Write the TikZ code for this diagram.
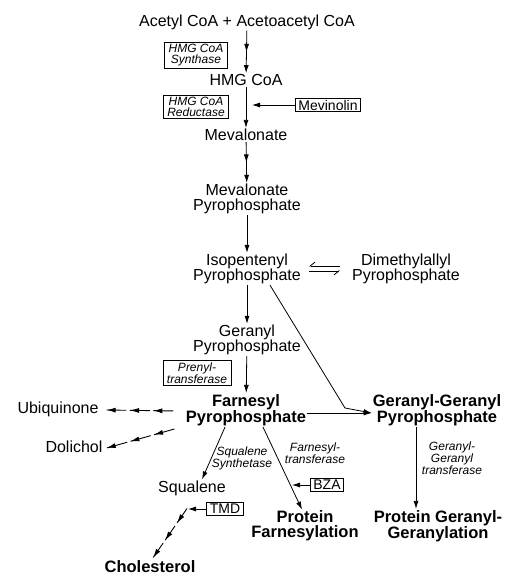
\documentclass[tikz,border=0pt]{standalone}
\usepackage{fontspec}
\setmainfont{Liberation Sans}
\usetikzlibrary{arrows.meta,decorations.markings}

\tikzset{
  met/.style={align=center, inner sep=1pt, font=\fontsize{16}{15}\selectfont},
  prod/.style={align=center, inner sep=1pt, font=\fontsize{16.5}{15}\selectfont\bfseries},
  enz/.style={align=center, inner sep=1pt, font=\fontsize{12}{11}\selectfont\itshape},
  enzbox/.style={enz, draw, line width=0.8pt, inner xsep=4pt, inner ysep=2pt},
  drug/.style={draw, line width=0.8pt, inner xsep=3pt, inner ysep=1.5pt, font=\fontsize{14}{14}\selectfont},
  conv/.style={line width=0.8pt, -{Latex[length=8pt,width=5pt]}},
  twostep/.style={conv, postaction=decorate, decoration={markings,
      mark=at position 0.5 with {\arrow{Latex[length=8pt,width=5pt]}}}},
  multistep/.style={line width=0.9pt, dash pattern=on #1 off 3.5pt, dash phase=#1,
      postaction=decorate, decoration={markings,
      mark=at position 0.3333 with {\arrow{Latex[length=9pt,width=5pt]}},
      mark=at position 0.6667 with {\arrow{Latex[length=9pt,width=5pt]}},
      mark=at position 0.9999 with {\arrow{Latex[length=9pt,width=5pt]}}}},
  harp/.style={line width=0.8pt, -{Straight Barb[#1,length=5pt,width=8pt]}},
}

\begin{document}
\begin{tikzpicture}[x=1pt,y=-1pt]
        \useasboundingbox (0,0) rectangle (520,582);

        % Mevalonate pathway
        \node[met] (acc) at (247,22) {Acetyl CoA + Acetoacetyl CoA};
        \node[met] (hmg) at (246,80) {HMG CoA};
        \node[met] (mev) at (246,135) {Mevalonate};
        \node[met] (mpp) at (247,199) {Mevalonate\\Pyrophosphate};
        \node[met] (ipp) at (247,269) {Isopentenyl\\Pyrophosphate};
        \node[met] (dma) at (406,269) {Dimethylallyl\\Pyrophosphate};
        \node[met] (gpp) at (247,340) {Geranyl\\Pyrophosphate};
        \node[prod] (fpp) at (246,410) {Farnesyl\\Pyrophosphate};
        \node[prod] (ggpp) at (437,410) {Geranyl-Geranyl\\Pyrophosphate};

        % Side products
        \node[met] (ubi) at (58,409) {Ubiquinone};
        \node[met] (dol) at (74,447) {Dolichol};
        \node[met] (sq) at (192,488) {Squalene};
        \node[prod] (chol) at (150,567) {Cholesterol};
        \node[prod] (pf) at (305,526) {Protein\\Farnesylation};
        \node[prod] (pgg) at (438,526) {Protein Geranyl-\\Geranylation};

        % Enzymes
        \node[enzbox] (hmgs) at (196,55) {HMG CoA\\Synthase};
        \node[enzbox] (hmgr) at (196,107) {HMG CoA\\Reductase};
        \node[enzbox] (prenyl) at (197,373) {Prenyl-\\transferase};
        \node[enz] (sqs) at (242,458) {Squalene\\Synthetase};
        \node[enz] (ftase) at (315,453) {Farnesyl-\\transferase};
        \node[enz] (ggtase) at (452,458) {Geranyl-\\Geranyl\\transferase};

        % Inhibitors
        \node[drug] (mevin) at (328,105) {Mevinolin};
        \node[drug] (bza) at (327,485) {BZA};
        \node[drug] (tmd) at (225,509) {TMD};
        \coordinate (mevhit) at (252,105);
        \coordinate (bzahit) at (292,485);
        \coordinate (tmdhit) at (188,509);
        \coordinate (bend) at (345,408);

        % Main steps
        \draw[twostep] (acc) -- (hmg);
        \draw[conv] (hmg) -- (mev);
        \draw[twostep] (mev) -- (mpp);
        \draw[conv] (mpp) -- (ipp);
        \draw[conv] (ipp) -- (gpp);
        \draw[conv] (gpp) -- (fpp);
        \draw[conv] ([yshift=-3pt]fpp.east) -- ([yshift=-3pt]ggpp.west);
        \draw[conv] ([xshift=23pt]ipp.south) -- (bend) -- ([yshift=-3pt]ggpp.west);
        \draw[conv] ([xshift=-21pt]ggpp.south) -- ([xshift=-22pt]pgg.north);
        \draw[conv] ([xshift=-21pt]fpp.south) -- ([xshift=10pt]sq.north);
        \draw[conv] ([xshift=17pt]fpp.south) -- ([xshift=-3pt]pf.north);

        % Isomerase
        \draw[harp=right] ([xshift=-11pt,yshift=3pt]dma.west) -- ([xshift=7pt,yshift=3pt]ipp.east);
        \draw[harp=right] ([xshift=7pt,yshift=-2pt]ipp.east) -- ([xshift=-11pt,yshift=-2pt]dma.west);

        % Several steps
        \draw[multistep=20pt] ([xshift=-8pt,yshift=-1pt]fpp.west) -- ([xshift=7pt,yshift=-1pt]ubi.east);
        \draw[multistep=21pt] ([shift={(-7pt,-1pt)}]fpp.south west) -- ([xshift=3pt,yshift=-1pt]dol.east);
        \draw[multistep=17.5pt] ([xshift=-3pt,yshift=-9pt]sq.south) -- ([xshift=3pt,yshift=2pt]chol.north);

        % Inhibition
        \draw[conv] (mevin) -- (mevhit);
        \draw[conv] (bza) -- (bzahit);
        \draw[conv] (tmd) -- (tmdhit);
\end{tikzpicture}
\end{document}
